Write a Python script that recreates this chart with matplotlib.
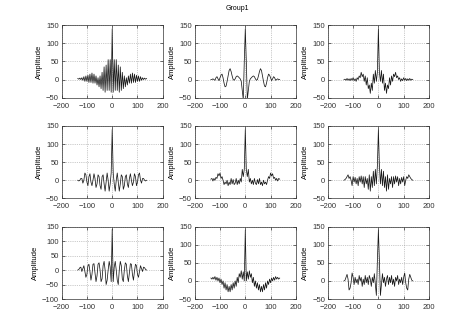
"""
Group1: autocorrelation-like amplitude traces, 3x3 subplots (MATLAB style)
"""
import numpy as np
import matplotlib
matplotlib.use('Agg')
import matplotlib.pyplot as plt

plt.rcParams['font.family'] = ['Liberation Sans', 'DejaVu Sans']

# one-sided lags (the traces are symmetric about lag 0)
lag_step = 4
max_lag = 136

# values at lags 0, 4, 8, ..., 136
amp_1 = [140, -35, 55, -30, 55, -30, 40, -35, 35, -30, 20, -25, 10, -20, 5, -15, 10,
         -10, 15, -10, 18, -8, 15, -8, 12, -5, 10, -5, 8, -2, 5, 0, 4, 1, 3]
amp_2 = [140, 50, -55, -30, -5, 2, 5, 8, 10, 8, 2, -2, 0, 10, 22, 30, 25,
         10, -5, -18, -20, -10, 5, 15, 12, 5, -3, 2, 8, 5, -2, 0, 2, 0, 0]
amp_3 = [140, 20, -5, 25, -10, 15, -30, -10, -38, -15, -25, 5, -15, 10, -5, 15, 8,
         20, 5, 10, 0, 5, -5, 2, -3, 5, -2, 3, -3, 2, -2, 3, -2, 1, 0]
amp_4 = [140, 20, -10, -30, 0, 20, -5, -30, -10, 15, 10, -25, -15, 10, 15, -10, -20,
         5, 18, 0, -15, -5, 18, 10, -15, -5, 15, 20, 0, -8, 5, 5, 0, -2, 0]
amp_5 = [140, 30, 10, 30, -5, 5, -10, 0, -12, 5, -8, -12, 2, -10, 5, -12, -5,
         -15, 0, -10, -5, -12, 0, 10, 5, 20, 12, 18, 5, 8, 0, 5, -2, 5, 3]
amp_6 = [140, 40, -10, 30, -15, 25, -20, 10, -30, 15, -25, 5, -10, 10, -20, 10, -10,
         12, -5, 10, -15, 5, -10, 8, -5, 10, -15, 0, 10, 5, 15, 10, 5, 2, 0]
amp_7 = [140, -40, 10, 30, 0, -35, -50, 0, 30, 15, -30, -40, 0, 25, 20, -20, -40,
         -10, 22, 20, -15, -35, -5, 20, 15, -15, -25, -5, 15, 5, -5, 10, 8, 2, 0]
amp_8 = [140, 0, 25, 5, 28, 10, 20, -5, 10, -15, 0, -20, -5, -25, -10, -30, -15,
         -30, -10, -25, -5, -20, 0, -10, 5, -5, 8, 0, 10, 2, 12, 5, 10, 5, 8]
amp_9 = [140, 55, -40, -10, 20, -5, 10, -15, 5, 15, -10, 10, -5, 15, -10, 5, -15,
         10, 0, 15, -10, 5, -5, 10, -10, 10, 22, -5, -20, -25, 5, 18, 10, 2, 0]

series = [amp_1, amp_2, amp_3, amp_4, amp_5, amp_6, amp_7, amp_8, amp_9]
y_limits = [(-50, 150)] * 6 + [(-100, 150)] + [(-50, 150)] * 2

# MATLAB default subplot(3,3,k) positions
lefts = [0.13, 0.4108, 0.6916]
bottoms = [0.7093, 0.4096, 0.11]
width, height = 0.2134, 0.2157


def two_sided(half):
    half = np.asarray(half, dtype=float)
    return np.concatenate([half[:0:-1], half])


lags_half = np.arange(0, max_lag + 1, lag_step)
lags = np.concatenate([-lags_half[:0:-1], lags_half])

fig = plt.figure(figsize=(4.74, 3.36), dpi=100)
fig.text(0.5, 0.985, 'Group1', ha='center', va='top', fontsize=5)

for k, (vals, ylim) in enumerate(zip(series, y_limits)):
    r, c = divmod(k, 3)
    ax = fig.add_axes([lefts[c], bottoms[r], width, height])
    ax.plot(lags, two_sided(vals), color='#1a1a1a', lw=0.55)
    ax.set_xlim(-200, 200)
    ax.set_ylim(*ylim)
    ax.set_xticks([-200, -100, 0, 100, 200])
    ax.set_yticks(np.arange(ylim[0], ylim[1] + 1, 50))
    ax.grid(True, ls=':', lw=0.5, color='#999999')
    ax.tick_params(direction='in', length=2, width=0.5, labelsize=5.5,
                   top=True, right=True, colors='#333333')
    ax.tick_params(axis='x', pad=3.5)
    ax.tick_params(axis='y', pad=2)
    for sp in ax.spines.values():
        sp.set_linewidth(0.5)
        sp.set_color('#333333')
    ax.set_ylabel('Amplitude', fontsize=5.5, labelpad=2)

fig.savefig('out.png', dpi=100)
